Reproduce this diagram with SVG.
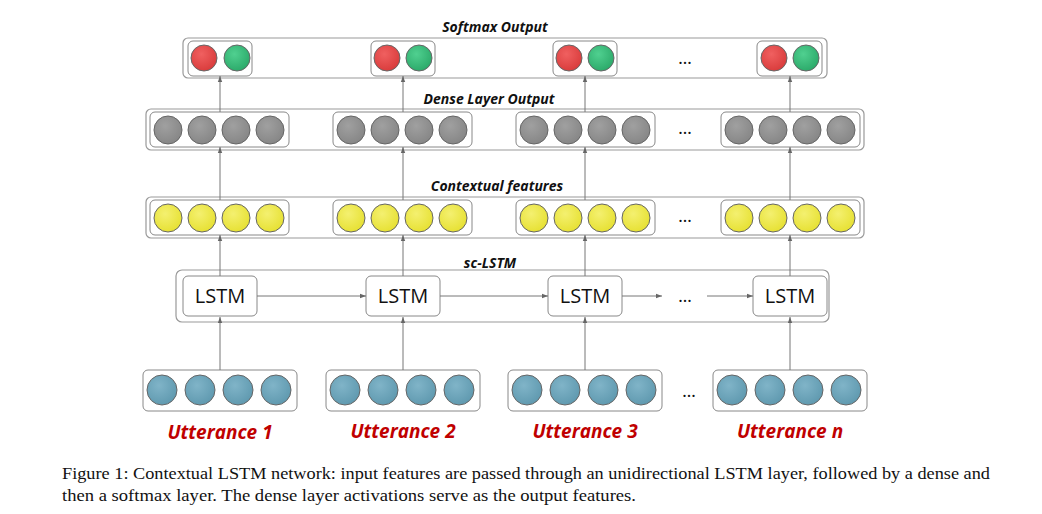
<svg xmlns="http://www.w3.org/2000/svg" width="1042" height="514" viewBox="0 0 1042 514">
<defs>
<radialGradient id="gr" cx="0.4" cy="0.35" r="0.7"><stop offset="0" stop-color="#f06060"/><stop offset="1" stop-color="#d83a3a"/></radialGradient>
<radialGradient id="gg" cx="0.4" cy="0.35" r="0.7"><stop offset="0" stop-color="#50d090"/><stop offset="1" stop-color="#2aa868"/></radialGradient>
<radialGradient id="gd" cx="0.4" cy="0.35" r="0.7"><stop offset="0" stop-color="#a0a0a0"/><stop offset="1" stop-color="#858585"/></radialGradient>
<radialGradient id="gy" cx="0.4" cy="0.35" r="0.7"><stop offset="0" stop-color="#f4f070"/><stop offset="1" stop-color="#e6e030"/></radialGradient>
<radialGradient id="gb" cx="0.4" cy="0.35" r="0.7"><stop offset="0" stop-color="#80b4c8"/><stop offset="1" stop-color="#5e98ae"/></radialGradient>
<marker id="ah" viewBox="0 0 6 6" refX="6" refY="3" markerWidth="6" markerHeight="6" orient="auto"><path d="M0,0.8 L6,3 L0,5.2z" fill="#666"/></marker>
</defs>
<style>
.o{fill:#fff;stroke:#999;stroke-width:1.2}
.i{fill:#fff;stroke:#888;stroke-width:1}
.c{stroke:#666;stroke-width:1}
.r{fill:url(#gr)} .g{fill:url(#gg)} .d{fill:url(#gd)} .y{fill:url(#gy)} .b{fill:url(#gb)}
.l{font-family:"Open Sans","Liberation Sans",sans-serif;font-weight:bold;font-style:italic;font-size:14px;text-anchor:middle;fill:#111}
.u{font-family:"Open Sans","Liberation Sans",sans-serif;font-weight:bold;font-style:italic;font-size:19px;text-anchor:middle;fill:#c00000}
.t{font-family:"Open Sans","Liberation Sans",sans-serif;font-size:20px;text-anchor:middle;fill:#111}
.dots{font-family:"Liberation Serif",serif;font-size:18px;text-anchor:middle;fill:#111}
.cap{font-family:"Liberation Serif",serif;font-size:17px;fill:#111}
.a{stroke:#777;stroke-width:1;fill:none;marker-end:url(#ah)}
</style>

<g id="labels">
<text class="l" x="495" y="32">Softmax Output</text>
<text class="l" x="489" y="104">Dense Layer Output</text>
<text class="l" x="497" y="191">Contextual features</text>
<text class="l" x="490" y="268">sc-LSTM</text>
</g>

<g id="softmax">
<rect class="o" x="183" y="38" width="644" height="40" rx="5"/>
<rect class="i" x="188" y="41" width="64" height="35" rx="5"/>
<rect class="i" x="371" y="41" width="64" height="35" rx="5"/>
<rect class="i" x="553" y="41" width="64" height="35" rx="5"/>
<rect class="i" x="757" y="41" width="65" height="35" rx="5"/>
<g class="c">
<circle class="r" cx="204" cy="58" r="13"/><circle class="g" cx="237" cy="58" r="13"/>
<circle class="r" cx="387" cy="58" r="13"/><circle class="g" cx="419" cy="58" r="13"/>
<circle class="r" cx="569" cy="58" r="13"/><circle class="g" cx="601" cy="58" r="13"/>
<circle class="r" cx="774" cy="58" r="13"/><circle class="g" cx="806" cy="58" r="13"/>
</g>
<text class="dots" x="685" y="64">...</text>
</g>

<g id="dense">
<rect class="o" x="146" y="109" width="718" height="41" rx="5"/>
<rect class="i" x="150" y="112" width="139" height="35" rx="5"/>
<rect class="i" x="333" y="112" width="139" height="35" rx="5"/>
<rect class="i" x="516" y="112" width="139" height="35" rx="5"/>
<rect class="i" x="721" y="112" width="139" height="35" rx="5"/>
<g class="c">
<circle class="d" cx="168" cy="130" r="14"/><circle class="d" cx="202" cy="130" r="14"/><circle class="d" cx="236" cy="130" r="14"/><circle class="d" cx="270" cy="130" r="14"/>
<circle class="d" cx="351" cy="130" r="14"/><circle class="d" cx="385" cy="130" r="14"/><circle class="d" cx="419" cy="130" r="14"/><circle class="d" cx="453" cy="130" r="14"/>
<circle class="d" cx="534" cy="130" r="14"/><circle class="d" cx="568" cy="130" r="14"/><circle class="d" cx="602" cy="130" r="14"/><circle class="d" cx="636" cy="130" r="14"/>
<circle class="d" cx="739" cy="130" r="14"/><circle class="d" cx="773" cy="130" r="14"/><circle class="d" cx="807" cy="130" r="14"/><circle class="d" cx="841" cy="130" r="14"/>
</g>
<text class="dots" x="685" y="134">...</text>
</g>

<g id="contextual">
<rect class="o" x="146" y="197" width="718" height="41" rx="5"/>
<rect class="i" x="150" y="200" width="139" height="35" rx="5"/>
<rect class="i" x="333" y="200" width="139" height="35" rx="5"/>
<rect class="i" x="516" y="200" width="139" height="35" rx="5"/>
<rect class="i" x="721" y="200" width="139" height="35" rx="5"/>
<g class="c">
<circle class="y" cx="168" cy="218" r="14"/><circle class="y" cx="202" cy="218" r="14"/><circle class="y" cx="236" cy="218" r="14"/><circle class="y" cx="270" cy="218" r="14"/>
<circle class="y" cx="351" cy="218" r="14"/><circle class="y" cx="385" cy="218" r="14"/><circle class="y" cx="419" cy="218" r="14"/><circle class="y" cx="453" cy="218" r="14"/>
<circle class="y" cx="534" cy="218" r="14"/><circle class="y" cx="568" cy="218" r="14"/><circle class="y" cx="602" cy="218" r="14"/><circle class="y" cx="636" cy="218" r="14"/>
<circle class="y" cx="739" cy="218" r="14"/><circle class="y" cx="773" cy="218" r="14"/><circle class="y" cx="807" cy="218" r="14"/><circle class="y" cx="841" cy="218" r="14"/>
</g>
<text class="dots" x="685" y="222">...</text>
</g>

<g id="sclstm">
<rect class="o" x="176" y="270" width="653" height="52" rx="6"/>
</g>
<g id="lstm1"><rect class="i" x="183" y="276" width="74" height="40" rx="5"/><text class="t" x="220" y="303">LSTM</text></g>
<g id="lstm2"><rect class="i" x="366" y="276" width="74" height="40" rx="5"/><text class="t" x="403" y="303">LSTM</text></g>
<g id="lstm3"><rect class="i" x="548" y="276" width="74" height="40" rx="5"/><text class="t" x="585" y="303">LSTM</text></g>
<g id="lstm4"><rect class="i" x="753" y="276" width="74" height="40" rx="5"/><text class="t" x="790" y="303">LSTM</text></g>
<text class="dots" x="685" y="302">...</text>

<g id="inputs">
<rect class="i" x="143" y="370" width="154" height="41" rx="5"/>
<rect class="i" x="326" y="370" width="154" height="41" rx="5"/>
<rect class="i" x="508" y="370" width="154" height="41" rx="5"/>
<rect class="i" x="713" y="370" width="154" height="41" rx="5"/>
<g class="c">
<circle class="b" cx="162" cy="390" r="15"/><circle class="b" cx="200" cy="390" r="15"/><circle class="b" cx="238" cy="390" r="15"/><circle class="b" cx="276" cy="390" r="15"/>
<circle class="b" cx="345" cy="390" r="15"/><circle class="b" cx="383" cy="390" r="15"/><circle class="b" cx="421" cy="390" r="15"/><circle class="b" cx="459" cy="390" r="15"/>
<circle class="b" cx="527" cy="390" r="15"/><circle class="b" cx="565" cy="390" r="15"/><circle class="b" cx="603" cy="390" r="15"/><circle class="b" cx="641" cy="390" r="15"/>
<circle class="b" cx="732" cy="390" r="15"/><circle class="b" cx="770" cy="390" r="15"/><circle class="b" cx="808" cy="390" r="15"/><circle class="b" cx="846" cy="390" r="15"/>
</g>
<text class="dots" x="689" y="397">...</text>
<text class="u" x="220" y="439">Utterance 1</text>
<text class="u" x="403" y="438">Utterance 2</text>
<text class="u" x="585" y="438">Utterance 3</text>
<text class="u" x="790" y="438">Utterance n</text>
</g>

<g id="connectors">
<line class="a" x1="220" y1="370" x2="220" y2="317"/>
<line class="a" x1="403" y1="370" x2="403" y2="317"/>
<line class="a" x1="585" y1="370" x2="585" y2="317"/>
<line class="a" x1="790" y1="370" x2="790" y2="317"/>
<line class="a" x1="257" y1="296" x2="366" y2="296"/>
<line class="a" x1="440" y1="296" x2="548" y2="296"/>
<line class="a" x1="622" y1="296" x2="662" y2="296"/>
<line class="a" x1="707" y1="296" x2="753" y2="296"/>
<line class="a" x1="220" y1="276" x2="220" y2="235"/>
<line class="a" x1="403" y1="276" x2="403" y2="235"/>
<line class="a" x1="585" y1="276" x2="585" y2="235"/>
<line class="a" x1="790" y1="276" x2="790" y2="235"/>
<line class="a" x1="220" y1="200" x2="220" y2="147"/>
<line class="a" x1="403" y1="200" x2="403" y2="147"/>
<line class="a" x1="585" y1="200" x2="585" y2="147"/>
<line class="a" x1="790" y1="200" x2="790" y2="147"/>
<line class="a" x1="220" y1="112" x2="220" y2="76"/>
<line class="a" x1="403" y1="112" x2="403" y2="76"/>
<line class="a" x1="585" y1="112" x2="585" y2="76"/>
<line class="a" x1="790" y1="112" x2="790" y2="76"/>
</g>

<g id="caption">
<text class="cap" x="62" y="479" textLength="928" lengthAdjust="spacingAndGlyphs">Figure 1: Contextual LSTM network: input features are passed through an unidirectional LSTM layer, followed by a dense and</text>
<text class="cap" x="62" y="501" textLength="574" lengthAdjust="spacingAndGlyphs">then a softmax layer. The dense layer activations serve as the output features.</text>
</g>
</svg>
